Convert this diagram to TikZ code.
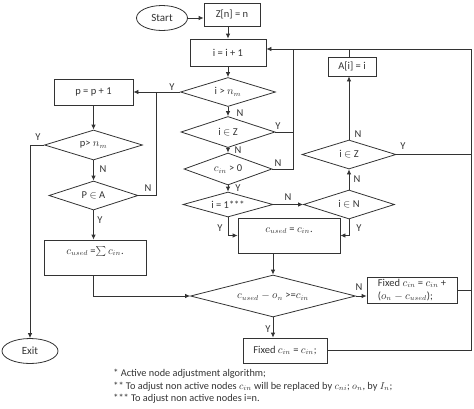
\documentclass[tikz,border=0pt]{standalone}
\usepackage{fontspec}
\setmainfont{Carlito}
\usetikzlibrary{arrows.meta,shapes.geometric,calc}

\begin{document}
\begin{tikzpicture}[x=1pt,y=-1pt,black!80,line width=0.8pt,
  blk/.style={draw,rectangle,inner sep=2pt,font=\fontsize{10.5}{13}\selectfont},
  tbox/.style={blk,text height=12pt,text depth=19pt},
  dec/.style={draw,diamond,aspect=4,inner sep=0pt,font=\fontsize{10.5}{12}\selectfont},
  term/.style={draw,ellipse,inner sep=0pt,font=\fontsize{11}{12}\selectfont},
  yn/.style={font=\fontsize{10.5}{12}\selectfont,inner sep=0pt},
  arr/.style={-{Latex[length=5pt,width=4.5pt]}}]
  \useasboundingbox (0,0) rectangle (474,408);

  % start / exit
  \node[term,minimum width=51pt,minimum height=25pt] (start) at (162,18) {Start};
  \node[term,minimum width=56pt,minimum height=25pt] (exit) at (30,351) {Exit};

  % middle column
  \node[blk,minimum width=56pt,minimum height=23pt] (zbox) at (232,14.5) {Z[n] = n};
  \node[blk,minimum width=76pt,minimum height=27pt] (ibox) at (228,52.5) {i = i + 1};
  \node[dec,minimum width=95pt,minimum height=29pt] (inm) at (228,92) {i > $n_m$};
  \node[dec,minimum width=94pt,minimum height=31pt] (iz1) at (228,132) {i $\in$ Z};
  \node[dec,minimum width=88pt,minimum height=32pt] (cin) at (228,169) {$c_{in}$ > 0};
  \node[dec,minimum width=90pt,minimum height=25pt] (ione) at (228,204.5) {i = 1***};
  \node[tbox,minimum width=102pt] (cus2) at (289,235.5) {$c_{used}$ = $c_{in}$.};
  \node[dec,minimum width=165pt,minimum height=42pt] (chk) at (273,296) {$c_{used} - o_n$ >=$c_{in}$};
  \node[blk,minimum width=84pt,minimum height=25pt] (fix2) at (285,350.5) {Fixed $c_{in}$ = $c_{in}$;};

  % right column
  \node[dec,minimum width=91pt,minimum height=29pt] (iN) at (349,204.5) {i $\in$ N};
  \node[dec,minimum width=94pt,minimum height=29pt] (iz2) at (349,154.5) {i $\in$ Z};
  \node[blk,minimum width=48pt,minimum height=19pt] (abox) at (352,66.5) {A[i] = i};
  \node[blk,minimum width=90pt,minimum height=26pt,align=left] (fix1) at (412,290)
    {Fixed $c_{in}$ = $c_{in}$ +\\($o_n - c_{used}$);};

  % left column
  \node[blk,minimum width=79pt,minimum height=26pt] (pbox) at (93.5,92) {p = p + 1};
  \node[dec,minimum width=98pt,minimum height=30pt] (pnm) at (93.5,145) {p> $n_m$};
  \node[dec,minimum width=89pt,minimum height=29pt] (pA) at (93.5,195.5) {P $\in$ A};
  \node[tbox,minimum width=102pt] (cus1) at (95,257.5) {$c_{used}$ =$\sum c_{in}$.};

  \coordinate (rtop) at (471,49);
  \coordinate (mv) at (293,49);
  \coordinate (lv) at (156,92);

  % connectors
  \draw[arr] (start.east) -- (start.east -| zbox.west);
  \draw[arr] (ibox.north |- zbox.south) -- (ibox.north);
  \draw[arr] (ibox) -- (inm);
  \draw[arr] (inm) -- (iz1);
  \draw[arr] (iz1) -- (cin);
  \draw[arr] (cin) -- (ione);
  \draw[arr] (inm.west) -- (pbox.east);
  \draw (pA.east) -| (lv);
  \draw[arr] (pbox) -- (pnm);
  \draw[arr] (pnm) -- (pA);
  \draw[arr] (pA.south) -- (pA.south |- cus1.north);
  \draw[arr] (pnm.west) -| (exit.north);
  \draw[arr] (cus1.south -| pA.south) |- (chk.west);
  \draw[arr] (rtop) -- (ibox.east |- rtop);
  \draw (iz1.east) -- (iz1.east -| mv);
  \draw (cin.east) -| (mv);
  \draw[arr] (ione.east) -- (iN.west);
  \draw[arr] (ione.south) |- (cus2.west);
  \draw[arr] (iN.south) |- (cus2.east);
  \draw[arr] (iN) -- (iz2);
  \draw[arr] (iz2.north) -- (iz2.north |- abox.south);
  \draw (iz2.north |- abox.north) -- (iz2.north |- rtop);
  \draw (iz2.east) -| (rtop);
  \draw (fix1.east) -| (rtop);
  \draw (fix2.east) -| (rtop);
  \draw[arr] (chk.north |- cus2.south) -- (chk.north);
  \draw[arr] (chk.east) -- (chk.east -| fix1.west);
  \draw[arr] (chk.south) -- (chk.south |- fix2.north);

  % Y / N labels
  \node[yn] (y1) at (172,87) {Y};
  \node[yn] (n1) at (240,113) {N};
  \node[yn] (y2) at (278,126) {Y};
  \node[yn] (n2) at (238,150) {N};
  \node[yn] (n3) at (278,163) {N};
  \node[yn] (y3) at (238,188) {Y};
  \node[yn] (n4) at (288,197) {N};
  \node[yn] (y4) at (220,228) {Y};
  \node[yn] (y5) at (359,228) {Y};
  \node[yn] (n5) at (357,179) {N};
  \node[yn] (n6) at (358,134) {N};
  \node[yn] (y6) at (403,146) {Y};
  \node[yn] (y7) at (38,137) {Y};
  \node[yn] (n7) at (103,169) {N};
  \node[yn] (n8) at (148,188) {N};
  \node[yn] (y8) at (100,220) {Y};
  \node[yn] (n9) at (359,287) {N};
  \node[yn] (y9) at (268,329) {Y};

  % footnotes
  \node[anchor=north west,align=left,inner sep=0pt,font=\fontsize{10.3}{12.5}\selectfont] (notes) at (113,369)
    {* Active node adjustment algorithm;\\
     ** To adjust non active nodes $c_{in}$ will be replaced by $c_{ni}$; $o_n$, by $I_n$;\\
     *** To adjust non active nodes i=n.};
\end{tikzpicture}
\end{document}
